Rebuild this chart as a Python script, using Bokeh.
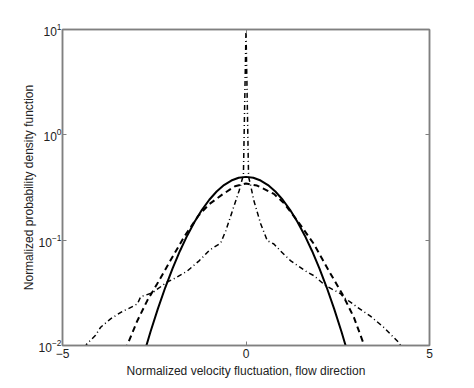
from bokeh.plotting import figure
from bokeh.models import LogAxis, LinearAxis, FixedTicker, LogTicker, CustomJSTickFormatter
from bokeh.embed import file_html
from bokeh.resources import INLINE

# Solid curve (Gaussian reference)
x_solid = [-2.8, -2.6, -2.4, -2.2, -2.0, -1.8, -1.6, -1.4, -1.2, -1.0, -0.8, -0.6, -0.4, -0.2, 0.0,
           0.2, 0.4, 0.6, 0.8, 1.0, 1.2, 1.4, 1.6, 1.8, 2.0, 2.2, 2.4, 2.6, 2.8]
y_solid = [0.0079, 0.0136, 0.0224, 0.0355, 0.0540, 0.0790, 0.1109, 0.1497, 0.1942, 0.2420, 0.2897,
           0.3332, 0.3683, 0.3910, 0.3989, 0.3910, 0.3683, 0.3332, 0.2897, 0.2420, 0.1942, 0.1497,
           0.1109, 0.0790, 0.0540, 0.0355, 0.0224, 0.0136, 0.0079]

# Dashed curve
x_dash = [-3.3, -3.24, -2.96, -2.69, -2.42, -2.06, -1.69, -1.30, -1.0, -0.64, -0.3, 0.0,
          0.3, 0.76, 1.03, 1.40, 1.85, 2.26, 2.62, 2.94, 3.2, 3.26]
y_dash = [0.0090, 0.0100, 0.0172, 0.0267, 0.0385, 0.064, 0.107, 0.170, 0.220, 0.272, 0.325, 0.345,
          0.330, 0.275, 0.225, 0.153, 0.092, 0.051, 0.031, 0.0185, 0.0105, 0.0092]

# Dash-dot curve
x_dd = [-4.4, -4.33, -4.1, -3.96, -3.69, -3.33, -3.24, -2.96, -2.87, -2.56, -2.15, -1.91, -1.60,
        -1.27, -1.0, -0.69, -0.55, -0.37, -0.185, -0.07, 0.0, 0.07, 0.12, 0.21, 0.40, 0.58, 0.76,
        0.94, 1.21, 1.67, 1.85, 2.17, 2.58, 2.66, 3.12, 3.30, 3.39, 3.75, 4.16, 4.25]
y_dd = [0.0095, 0.0104, 0.0125, 0.0149, 0.0179, 0.0215, 0.0220, 0.0248, 0.0290, 0.0315, 0.040,
        0.044, 0.051, 0.064, 0.080, 0.094, 0.123, 0.190, 0.296, 0.42, 10.0, 0.40, 0.34, 0.24,
        0.143, 0.099, 0.092, 0.079, 0.064, 0.0496, 0.046, 0.037, 0.031, 0.0287, 0.022, 0.020,
        0.019, 0.0149, 0.0107, 0.0095]

x_ticks = [-5, 0, 5]
x_label = "Normalized velocity fluctuation, flow direction"
y_label = "Normalized probability density function"

FONT = "Liberation Sans"
GRAY = "#808080"

p = figure(width=466, height=380, y_axis_type="log", x_range=(-5, 5), y_range=(0.01, 10),
           output_backend="svg", toolbar_location=None,
           min_border_left=62, min_border_right=37, min_border_top=29, min_border_bottom=35)
p.grid.visible = False
p.outline_line_color = GRAY
p.outline_line_width = 1.5
p.background_fill_color = "white"
p.border_fill_color = "white"

p.line(x_solid, y_solid, line_color="black", line_width=2)
p.line(x_dash, y_dash, line_color="black", line_width=2, line_dash="6 4")
p.line(x_dd, y_dd, line_color="black", line_width=1.5, line_dash="5 3 1 3")

def style(ax):
    ax.axis_line_color = GRAY
    ax.axis_line_width = 1.5
    ax.major_tick_line_color = GRAY
    ax.major_tick_in = 4
    ax.major_tick_out = 0
    ax.minor_tick_line_color = None
    ax.major_label_text_font = FONT
    ax.major_label_text_font_size = "12px"
    ax.major_label_text_color = "#222222"
    ax.axis_label_text_font = FONT
    ax.axis_label_text_font_size = "12px"
    ax.axis_label_text_font_style = "normal"
    ax.axis_label_text_color = "#222222"
    ax.major_label_standoff = 3
    ax.axis_label_standoff = 3

xa = p.xaxis[0]
style(xa)
xa.ticker = FixedTicker(ticks=x_ticks)
xa.axis_label = x_label
ya = p.yaxis[0]
style(ya)
ya.ticker = LogTicker(num_minor_ticks=0)
ya.axis_label = y_label
ya.major_label_standoff = 1
ya.axis_label_standoff = 0

blank = CustomJSTickFormatter(code="return ''")
ra = LogAxis(ticker=LogTicker(num_minor_ticks=0), formatter=blank)
style(ra)
ra.major_label_text_font_size = "1px"
ra.major_label_standoff = 0
p.add_layout(ra, "right")
ta = LinearAxis(ticker=FixedTicker(ticks=x_ticks), formatter=blank)
style(ta)
ta.major_label_text_font_size = "1px"
ta.major_label_standoff = 0
p.add_layout(ta, "above")

open("out.html", "w").write(file_html(p, INLINE))
